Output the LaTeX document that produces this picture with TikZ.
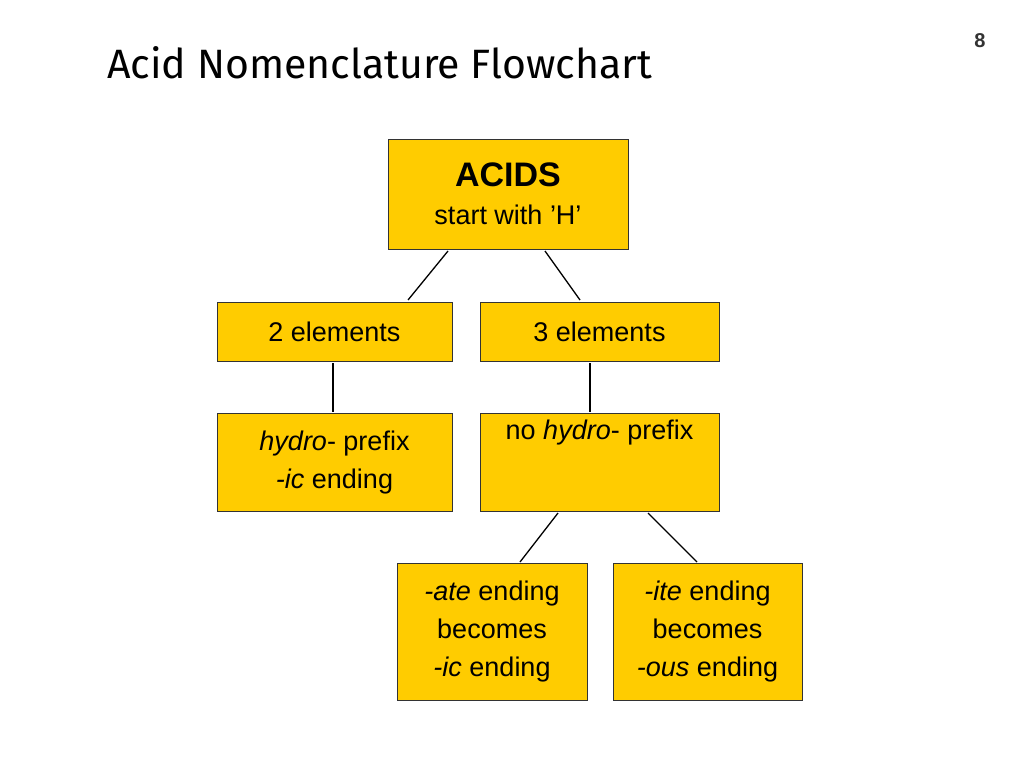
\documentclass[tikz,border=0pt]{standalone}
\usepackage{fontspec}
\setmainfont{Liberation Sans}
\newfontfamily\titlefont{Fira Sans}
\definecolor{boxy}{HTML}{FFCC00}
\begin{document}
\begin{tikzpicture}[x=1pt,y=-1pt,
  bx/.style={draw=black!80,line width=1pt,fill=boxy,inner sep=0pt,align=center,font=\fontsize{27}{38}\selectfont},
  ln/.style={line width=1.3pt,black}]
\useasboundingbox (0,0) rectangle (1024,768);
\fill[white] (0,0) rectangle (1024,768);
\node[anchor=base west,font=\titlefont\fontsize{41}{48}\selectfont,inner sep=0pt] (title) at (107,78) {Acid Nomenclature Flowchart};
\node[anchor=base,font=\bfseries\fontsize{20}{24}\selectfont,text=black!80] (num) at (980,48) {8};
\node[bx,minimum width=240,minimum height=110] (acids) at (508,194) {{\bfseries\fontsize{34}{40}\selectfont ACIDS}\\start with 'H'};
\node[bx,minimum width=235,minimum height=59] (two) at (334.5,331.5) {2 elements};
\node[bx,minimum width=239,minimum height=59] (three) at (599.5,331.5) {3 elements};
\node[bx,minimum width=235,minimum height=98,anchor=north] (hyd) at (334.5,413) {\textit{hydro}- prefix\\\textit{-ic} ending};
\node[bx,minimum width=239,minimum height=98,anchor=north] (nohyd) at (599.5,413) {\rule{0pt}{22pt}no \textit{hydro}- prefix\\[30pt]};
\node[bx,minimum width=190,minimum height=137] (ate) at (492,631.5) {\textit{-ate} ending\\becomes\\\textit{-ic} ending};
\node[bx,minimum width=189,minimum height=137] (ite) at (707.5,631.5) {\textit{-ite} ending\\becomes\\\textit{-ous} ending};
\coordinate (a1) at (448,251); \coordinate (a2) at (408,300);
\coordinate (b1) at (545,251); \coordinate (b2) at (580,300);
\coordinate (c1) at (333,363); \coordinate (c2) at (333,412);
\coordinate (d1) at (590,363); \coordinate (d2) at (590,412);
\coordinate (e1) at (558,513); \coordinate (e2) at (520,562);
\coordinate (f1) at (648,513); \coordinate (f2) at (697,562);
\draw[ln] (a1) -- (a2); \draw[ln] (b1) -- (b2);
\draw[ln] (c1) -- (c2); \draw[ln] (d1) -- (d2);
\draw[ln] (e1) -- (e2); \draw[ln] (f1) -- (f2);
\end{tikzpicture}
\end{document}
